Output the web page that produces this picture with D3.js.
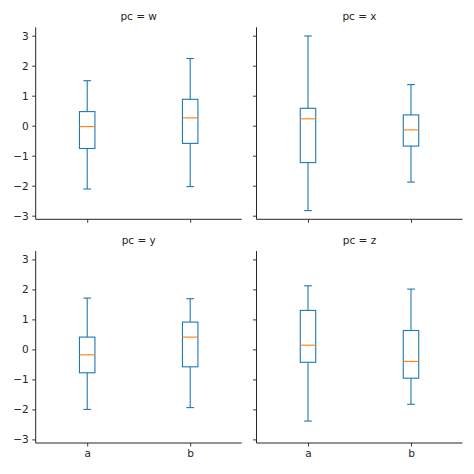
<!DOCTYPE html>
<html>
<head>
<meta charset="utf-8">
<script src="https://cdn.jsdelivr.net/npm/d3@7"></script>
<style>
  body { margin: 0; background: #fff; }
  text { font-family: "DejaVu Sans", sans-serif; fill: #262626; }
</style>
</head>
<body>
<svg id="chart" width="474" height="474"></svg>
<script>
// facet panels and the two groups in each
var panels = ["w", "x", "y", "z"];
var groups = ["a", "b"];
var yTicks = [-3, -2, -1, 0, 1, 2, 3];

// five-number summaries: [low whisker, q1, median, q3, high whisker]
var statsW = [[-2.11, -0.76, -0.03, 0.47, 1.50], [-2.03, -0.59, 0.26, 0.88, 2.24]];
var statsX = [[-2.83, -1.23, 0.23, 0.58, 2.99], [-1.88, -0.68, -0.14, 0.36, 1.37]];
var statsY = [[-2.00, -0.78, -0.18, 0.41, 1.71], [-1.94, -0.58, 0.41, 0.91, 1.69]];
var statsZ = [[-2.39, -0.43, 0.14, 1.30, 2.12], [-1.83, -0.96, -0.40, 0.63, 2.01]];
var allStats = [statsW, statsX, statsY, statsZ];

var svg = d3.select("#chart");
var panelW = 206, panelH = 192;
var lefts = [35.7, 256.5];
var tops = [27.3, 251];

var blue = "#1f77b4", orange = "#ff7f0e", axisCol = "#262626";

var y = d3.scaleLinear().domain([-3.12, 3.28]).range([panelH, 0]);
var x = d3.scaleLinear().domain([0.5, 2.5]).range([0, panelW]);
var boxW = x(1.15) - x(1);

panels.forEach(function (p, i) {
    var col = i % 2, row = Math.floor(i / 2);
    var g = svg.append("g")
        .attr("transform", "translate(" + lefts[col] + "," + tops[row] + ")");

    var yAxis = d3.axisLeft(y).tickValues(yTicks).tickSize(3.5).tickPadding(3.5)
        .tickFormat(col === 0 ? function (d) { return d < 0 ? "\u2212" + (-d) : d; } : "");
    var xAxis = d3.axisBottom(x).tickValues([1, 2]).tickSize(3.5).tickPadding(3.5)
        .tickFormat(row === 1 ? function (d) { return groups[d - 1]; } : "");

    var ya = g.append("g").call(yAxis);
    var xa = g.append("g").attr("transform", "translate(0," + panelH + ")").call(xAxis);
    [ya, xa].forEach(function (a) {
        a.select(".domain").attr("stroke", axisCol).attr("stroke-width", 1);
        a.selectAll(".tick line").attr("stroke", axisCol).attr("stroke-width", 0.9);
        a.selectAll(".tick text").attr("font-size", "10.5px").style("fill", axisCol);
        a.attr("font-family", null);
    });
    // keep only the spine lines, no outer ticks
    ya.select(".domain").attr("d", "M0," + 0 + "V" + panelH);
    xa.select(".domain").attr("d", "M0,0H" + panelW);

    g.append("text")
        .attr("x", panelW / 2)
        .attr("y", -7)
        .attr("text-anchor", "middle")
        .attr("font-size", "10.5px")
        .text("pc = " + p);

    var boxes = g.selectAll("g.box").data(allStats[i]).enter()
        .append("g").attr("class", "box")
        .attr("transform", function (d, k) { return "translate(" + x(k + 1) + ",0)"; });

    // whiskers
    boxes.append("line").attr("x1", 0).attr("x2", 0)
        .attr("y1", function (d) { return y(d[0]); })
        .attr("y2", function (d) { return y(d[1]); })
        .attr("stroke", blue).attr("stroke-width", 1.1);
    boxes.append("line").attr("x1", 0).attr("x2", 0)
        .attr("y1", function (d) { return y(d[3]); })
        .attr("y2", function (d) { return y(d[4]); })
        .attr("stroke", blue).attr("stroke-width", 1.1);
    // caps
    [0, 4].forEach(function (j) {
        boxes.append("line")
            .attr("x1", -boxW / 4).attr("x2", boxW / 4)
            .attr("y1", function (d) { return y(d[j]); })
            .attr("y2", function (d) { return y(d[j]); })
            .attr("stroke", blue).attr("stroke-width", 1.1);
    });
    // box
    boxes.append("rect")
        .attr("x", -boxW / 2).attr("width", boxW)
        .attr("y", function (d) { return y(d[3]); })
        .attr("height", function (d) { return y(d[1]) - y(d[3]); })
        .attr("fill", "none").attr("stroke", blue).attr("stroke-width", 1.1);
    // median
    boxes.append("line")
        .attr("x1", -boxW / 2).attr("x2", boxW / 2)
        .attr("y1", function (d) { return y(d[2]); })
        .attr("y2", function (d) { return y(d[2]); })
        .attr("stroke", orange).attr("stroke-width", 1.1);
});
</script>
</body>
</html>
